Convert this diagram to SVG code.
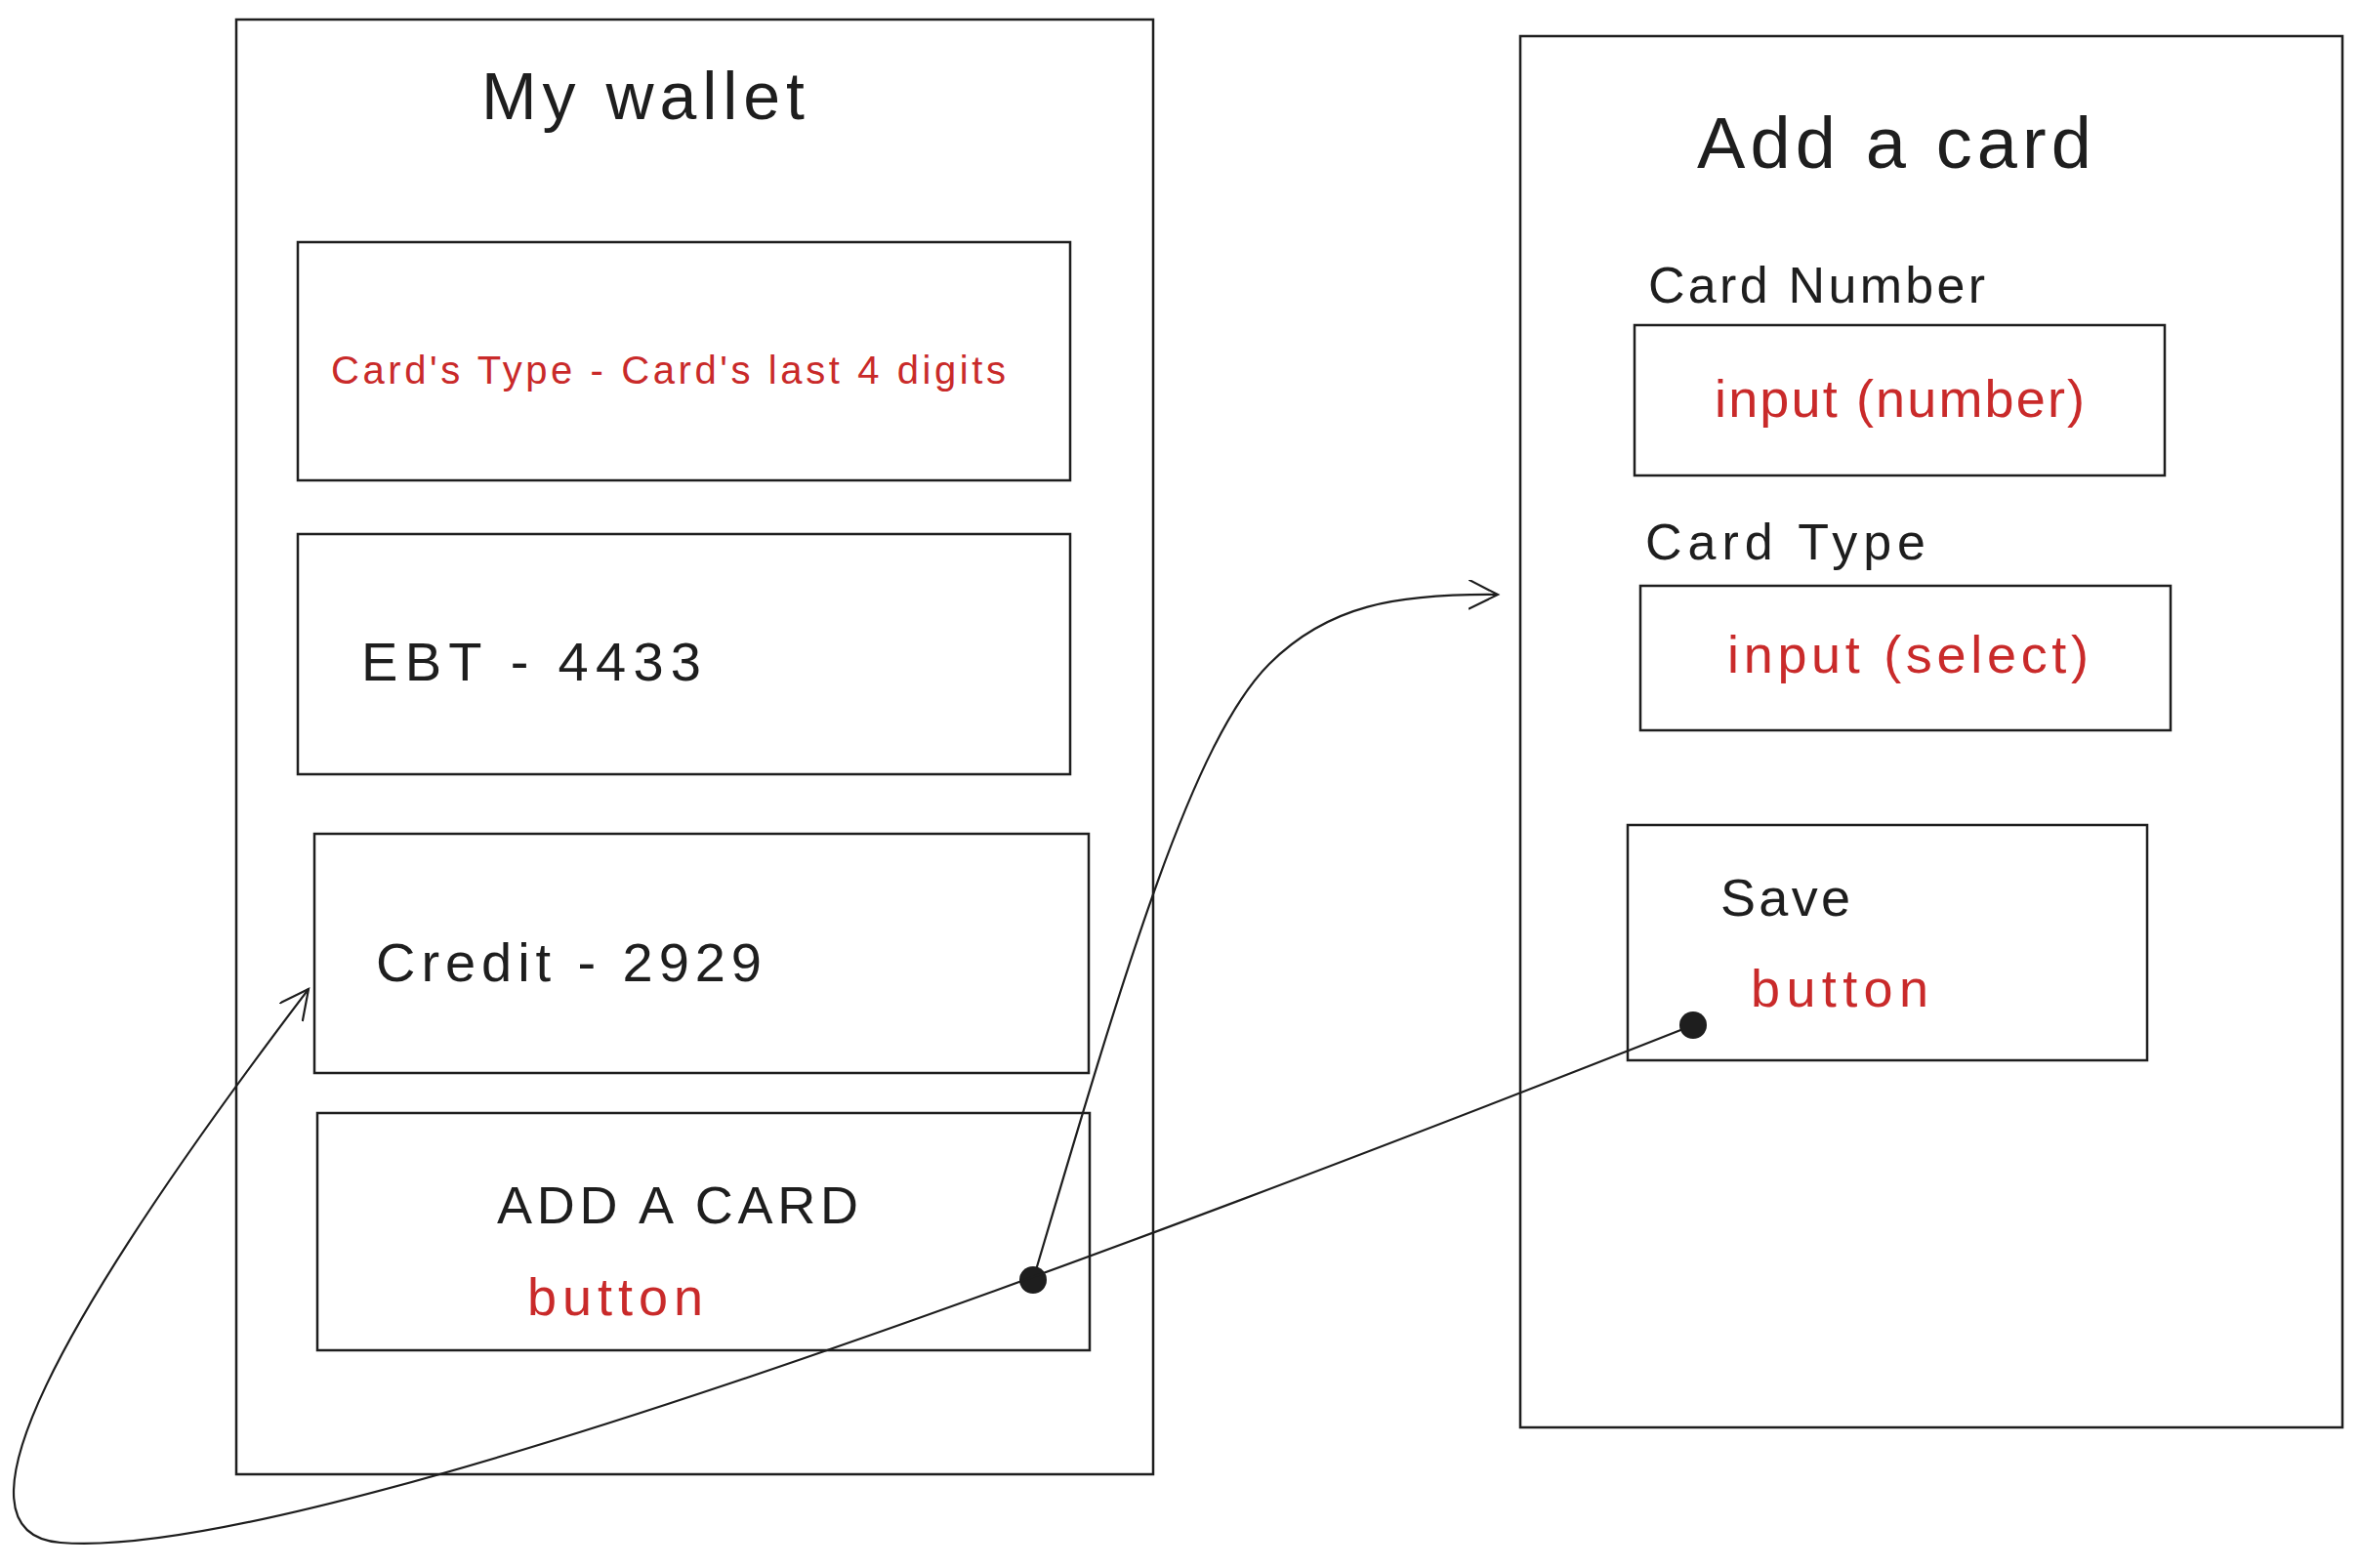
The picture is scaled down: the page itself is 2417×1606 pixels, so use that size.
<svg xmlns="http://www.w3.org/2000/svg" width="2417" height="1606" viewBox="0 0 2417 1606">
<style>
.b{fill:none;stroke:#1e1e1e;stroke-width:2.5}
.t{font-family:"Comic Sans MS","Liberation Sans",sans-serif;fill:#1e1e1e}
.r{fill:#c92a2a}
.c{fill:none;stroke:#1e1e1e;stroke-width:2.2}
</style>
<defs>
<marker id="ah" markerWidth="40" markerHeight="40" refX="30" refY="15" orient="auto" markerUnits="userSpaceOnUse">
<polyline points="0,0 30,15 0,30" fill="none" stroke="#1e1e1e" stroke-width="2.2"/>
</marker>
</defs>
<rect width="2417" height="1606" fill="#fff"/>
<g id="wallet"><rect class="b" x="242" y="20" width="939" height="1490"/><text class="t" x="493" y="122" font-size="68" textLength="331" lengthAdjust="spacing">My wallet</text></g>
<g id="card1"><rect class="b" x="305" y="248" width="791" height="244"/><text class="t r" x="339" y="393" font-size="40" textLength="691" lengthAdjust="spacing">Card's Type - Card's last 4 digits</text></g>
<g id="card2"><rect class="b" x="305" y="547" width="791" height="246"/><text class="t" x="370" y="697" font-size="56" textLength="348" lengthAdjust="spacing">EBT - 4433</text></g>
<g id="card3"><rect class="b" x="322" y="854" width="793" height="245"/><text class="t" x="385" y="1005" font-size="56" textLength="395" lengthAdjust="spacing">Credit - 2929</text></g>
<g id="addbtn"><rect class="b" x="325" y="1140" width="791" height="243"/><text class="t" x="509" y="1253" font-size="54" textLength="370" lengthAdjust="spacing">ADD A CARD</text><text class="t r" x="540" y="1347" font-size="54" textLength="180" lengthAdjust="spacing">button</text></g>
<g id="addcard"><rect class="b" x="1557" y="37" width="842" height="1425"/><text class="t" x="1738" y="172" font-size="74" textLength="404" lengthAdjust="spacing">Add a card</text></g>
<g id="numlabel"><text class="t" x="1688" y="310" font-size="52" textLength="345" lengthAdjust="spacing">Card Number</text></g>
<g id="numinput"><rect class="b" x="1674" y="333" width="543" height="154"/><text class="t r" x="1756" y="427" font-size="54" textLength="379" lengthAdjust="spacing">input (number)</text></g>
<g id="typelabel"><text class="t" x="1685" y="573" font-size="52" textLength="287" lengthAdjust="spacing">Card Type</text></g>
<g id="typeinput"><rect class="b" x="1680" y="600" width="543" height="148"/><text class="t r" x="1769" y="689" font-size="54" textLength="370" lengthAdjust="spacing">input (select)</text></g>
<g id="save"><rect class="b" x="1667" y="845" width="532" height="241"/><text class="t" x="1762" y="938" font-size="54" textLength="133" lengthAdjust="spacing">Save</text><text class="t r" x="1793" y="1031" font-size="54" textLength="182" lengthAdjust="spacing">button</text></g>
<g id="connectors">
<path class="c" d="M1058,1311 C1150,1000 1220,760 1300,680 C1360,620 1430,608 1534,609" marker-end="url(#ah)"/>
<circle cx="1058" cy="1311" r="14" fill="#1e1e1e"/>
<path class="c" d="M1734,1050 C1100,1300 300,1600 62,1580 C-60,1570 60,1350 316,1013" marker-end="url(#ah)"/>
<circle cx="1734" cy="1050" r="14" fill="#1e1e1e"/>
</g>
</svg>
